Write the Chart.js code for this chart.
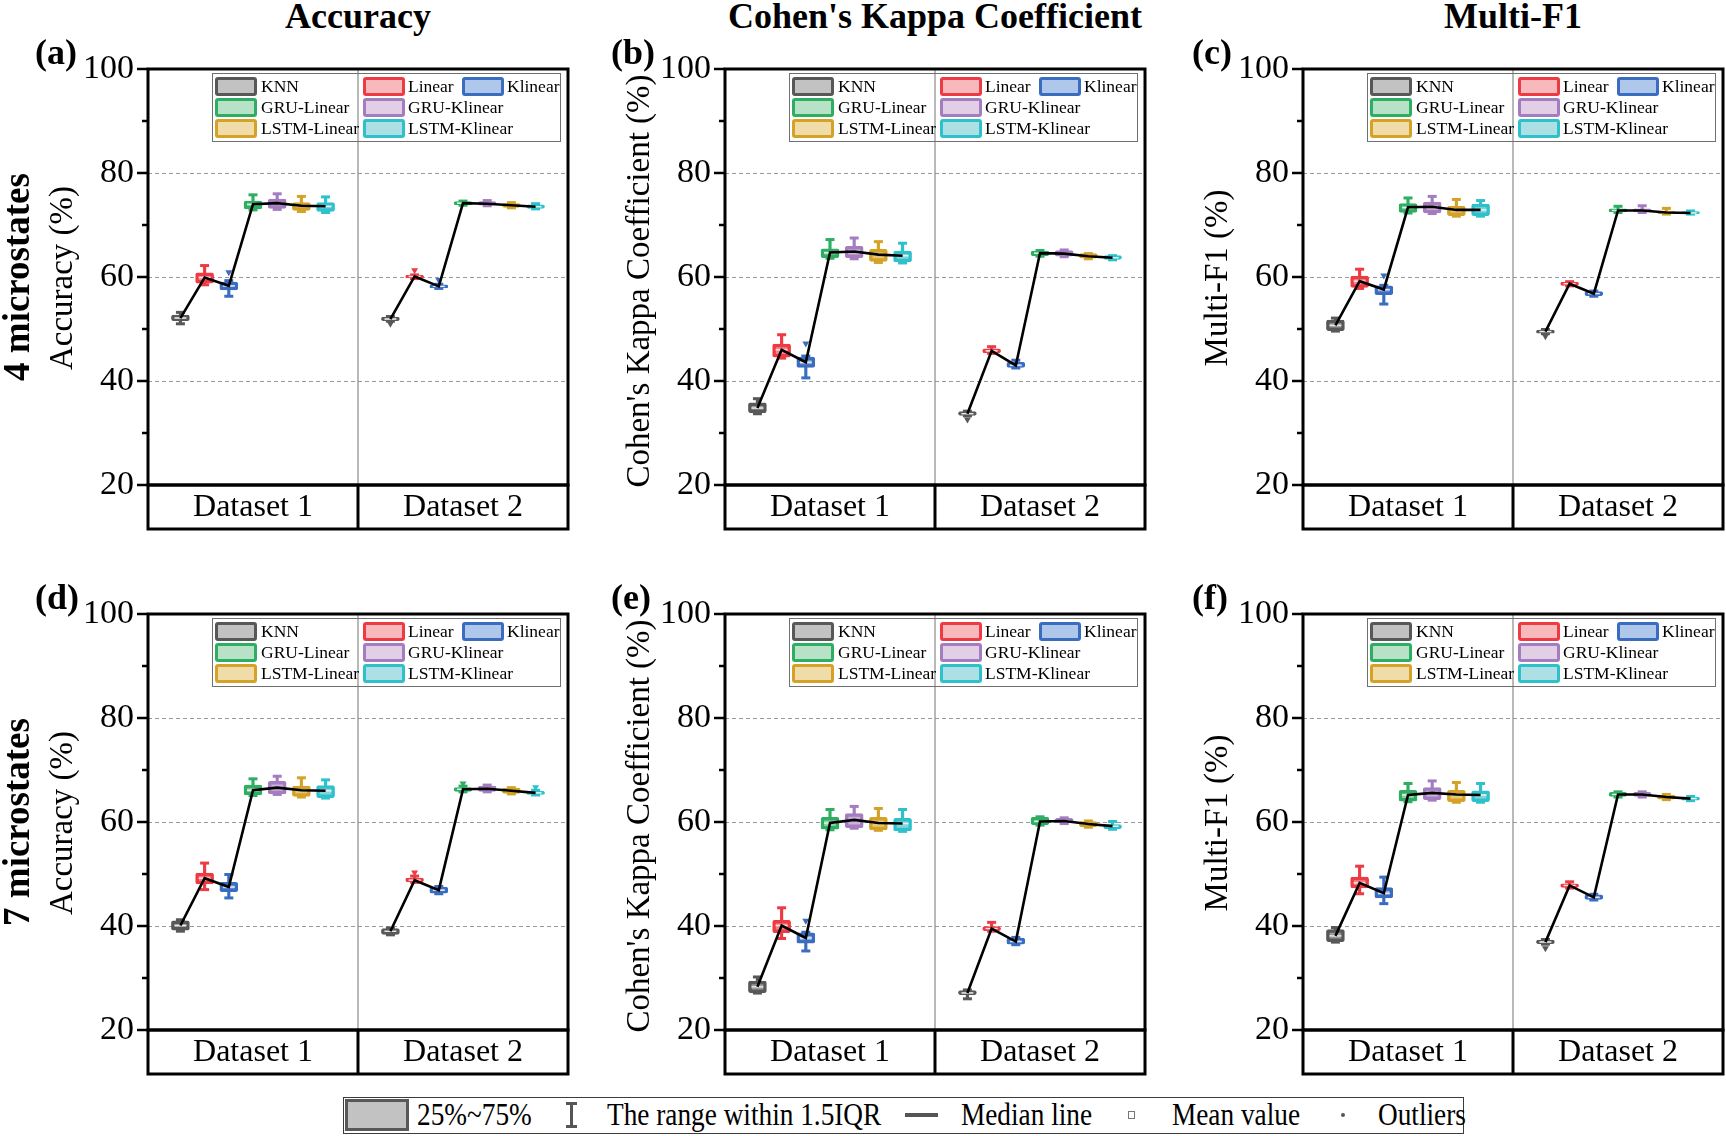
<!DOCTYPE html>
<html>
<head>
<meta charset="utf-8">
<script src="https://cdn.jsdelivr.net/npm/chart.js@4.4.0/dist/chart.umd.min.js"></script>
<style>
  html, body { margin: 0; padding: 0; background: #fff; }
  #page { position: relative; width: 1726px; height: 1136px; overflow: hidden;
          font-family: 'Liberation Serif', 'Times New Roman', serif; color: #000; }
  .abs { position: absolute; white-space: nowrap; }
  .coltitle { font-weight: bold; font-size: 36px; line-height: 36px; transform: translateX(-50%); }
  .plabel { font-weight: bold; font-size: 36px; line-height: 36px; }
  .rot { transform: translate(-50%, -50%) rotate(-90deg); }
  .rowtitle { font-weight: bold; font-size: 37px; line-height: 40px; }
  .ytitle { font-size: 33px; line-height: 36px; }
  .leg { position: absolute; border: 1px solid #707070; box-sizing: border-box; }
  .leg .sw { position: absolute; width: 42px; height: 19px; box-sizing: border-box; border: 3px solid; border-radius: 3px; }
  .leg .tx { position: absolute; font-size: 17.5px; line-height: 20px; }
  #blegend { position: absolute; left: 343px; top: 1097px; width: 1121px; height: 37px;
             border: 1.5px solid #3c3c3c; box-sizing: border-box; }
  #blegend .t { position: absolute; top: 0; font-size: 31px; line-height: 34px; transform: scaleX(0.88); transform-origin: left center; }
  canvas { position: absolute; }
</style>
</head>
<body>
<div id="page"></div>
<script>
// ---------------- DATA ----------------
const models = ['KNN', 'Linear', 'Klinear', 'GRU-Linear', 'GRU-Klinear', 'LSTM-Linear', 'LSTM-Klinear'];
const groups = ['Dataset 1', 'Dataset 2'];
const yTickLabels = [20, 40, 60, 80, 100];
const gridValues = [40, 60, 80];
const colTitles = ['Accuracy', "Cohen's Kappa Coefficient", 'Multi-F1'];
const rowTitles = ['4 microstates', '7 microstates'];
const yTitles = ['Accuracy (%)', "Cohen's Kappa Coefficient (%)", 'Multi-F1 (%)'];
const panelLetters = ['(a)', '(b)', '(c)', '(d)', '(e)', '(f)'];

// Each array: Dataset 1 (7 models in order above), then Dataset 2 (7 models)
// (a) Accuracy, 4 microstates
const a_lo  = [51.0, 58.5, 56.3, 72.9, 73.0, 72.6, 72.4,  51.5, 59.7, 57.8, 73.8, 73.7, 73.3, 73.1];
const a_q1  = [51.6, 58.8, 57.5, 73.1, 73.2, 72.8, 72.6,  51.6, 59.8, 57.9, 73.9, 73.8, 73.4, 73.2];
const a_med = [52.1, 59.9, 58.3, 74.0, 74.2, 73.7, 73.6,  51.9, 60.1, 58.2, 74.2, 74.1, 73.8, 73.5];
const a_q3  = [52.7, 60.8, 59.0, 74.6, 75.0, 74.3, 74.3,  52.3, 60.3, 58.5, 74.5, 74.5, 74.1, 73.9];
const a_hi  = [53.2, 62.2, 59.3, 75.8, 76.0, 75.5, 75.4,  52.4, 60.4, 58.6, 74.6, 74.7, 74.3, 74.1];
const a_out = [[2, 60.9], [7, 51.0], [8, 61.3], [9, 59.4]];
// (b) Cohen's Kappa, 4 microstates
const b_lo  = [33.7, 44.4, 40.6, 63.6, 63.5, 62.8, 62.7,  33.3, 45.3, 42.5, 64.0, 63.9, 63.5, 63.3];
const b_q1  = [33.9, 44.6, 42.6, 63.7, 63.7, 63.0, 62.9,  33.4, 45.4, 42.6, 64.1, 64.0, 63.6, 63.4];
const b_med = [34.8, 46.0, 43.6, 64.7, 64.9, 64.3, 64.1,  33.7, 45.8, 43.0, 64.6, 64.5, 64.0, 63.7];
const b_q3  = [35.8, 47.1, 44.6, 65.4, 65.9, 65.3, 65.0,  34.1, 46.2, 43.6, 65.0, 65.1, 64.5, 64.1];
const b_hi  = [36.6, 48.9, 44.8, 67.2, 67.5, 66.8, 66.5,  34.2, 46.6, 44.0, 65.1, 65.2, 64.5, 64.1];
const b_out = [[2, 47.2], [7, 32.6]];
// (c) Multi-F1, 4 microstates
const c_lo  = [49.6, 57.8, 54.8, 72.3, 72.2, 71.7, 71.7,  49.1, 58.3, 56.3, 72.4, 72.4, 72.1, 72.1];
const c_q1  = [49.7, 58.0, 56.6, 72.4, 72.3, 71.8, 71.8,  49.2, 58.4, 56.4, 72.5, 72.5, 72.2, 72.2];
const c_med = [50.7, 59.2, 57.6, 73.4, 73.5, 72.9, 72.9,  49.5, 58.7, 56.8, 72.8, 72.8, 72.4, 72.3];
const c_q3  = [51.7, 60.2, 58.3, 74.1, 74.4, 73.6, 74.0,  49.8, 59.0, 57.2, 73.1, 73.1, 72.7, 72.6];
const c_hi  = [52.1, 61.5, 58.4, 75.2, 75.5, 74.9, 74.7,  49.9, 59.1, 57.3, 73.6, 73.7, 73.2, 72.7];
const c_out = [[2, 60.3], [7, 48.6]];
// (d) Accuracy, 7 microstates
const d_lo  = [39.0, 47.0, 45.4, 65.1, 65.3, 64.8, 64.6,  38.3, 48.4, 46.2, 65.8, 65.8, 65.4, 65.2];
const d_q1  = [39.2, 48.1, 46.6, 65.2, 65.4, 64.9, 64.7,  38.4, 48.5, 46.3, 65.9, 65.9, 65.5, 65.3];
const d_med = [40.1, 49.2, 47.5, 66.1, 66.6, 66.1, 66.0,  39.0, 48.8, 46.9, 66.3, 66.4, 66.0, 65.6];
const d_q3  = [41.0, 50.2, 48.4, 67.1, 67.8, 66.9, 67.0,  39.5, 49.2, 47.5, 66.6, 66.9, 66.5, 65.9];
const d_hi  = [41.2, 52.1, 49.9, 68.3, 68.8, 68.5, 68.1,  39.6, 49.6, 47.6, 66.9, 67.1, 66.6, 66.1];
const d_out = [[8, 50.3], [10, 67.4], [13, 66.7]];
// (e) Cohen's Kappa, 7 microstates
const e_lo  = [27.1, 37.6, 35.2, 58.5, 58.8, 58.4, 58.2,  26.0, 39.0, 36.4, 59.4, 59.7, 59.0, 58.6];
const e_q1  = [27.2, 38.7, 36.7, 58.6, 58.9, 58.5, 58.3,  26.8, 39.1, 36.5, 59.5, 59.8, 59.1, 58.7];
const e_med = [28.3, 40.1, 37.7, 59.8, 60.4, 59.8, 59.7,  27.1, 39.5, 37.0, 60.1, 60.2, 59.6, 59.2];
const e_q3  = [29.4, 41.1, 38.7, 60.9, 61.6, 60.9, 60.7,  27.6, 39.9, 37.7, 60.9, 60.7, 60.1, 59.5];
const e_hi  = [30.2, 43.5, 38.8, 62.4, 63.0, 62.6, 62.4,  27.7, 40.7, 37.8, 61.0, 60.8, 60.2, 60.1];
const e_out = [[2, 41.0]];
// (f) Multi-F1, 7 microstates
const f_lo  = [36.9, 46.2, 44.3, 63.9, 64.2, 63.8, 63.8,  36.5, 47.3, 45.0, 64.8, 64.8, 64.3, 64.1];
const f_q1  = [37.0, 47.3, 45.4, 64.0, 64.3, 63.9, 63.9,  36.6, 47.4, 45.1, 64.9, 64.9, 64.4, 64.2];
const f_med = [38.1, 48.3, 46.3, 65.2, 65.6, 65.3, 65.2,  36.9, 47.8, 45.5, 65.3, 65.3, 64.8, 64.5];
const f_q3  = [39.3, 49.4, 47.4, 66.1, 66.6, 66.1, 66.0,  37.3, 48.1, 46.0, 65.7, 65.7, 65.2, 64.8];
const f_hi  = [39.7, 51.5, 49.4, 67.4, 67.9, 67.6, 67.4,  37.4, 48.5, 46.1, 65.8, 65.8, 65.3, 64.9];
const f_out = [[7, 35.7]];

// ---------------- STYLE ----------------
const borderCols = ['#585858', '#ee3a42', '#3a6cc0', '#2eae62', '#a47cc0', '#d4a227', '#2ec1cc'];
const fillCols   = ['#c2c2c2', '#f7b9bc', '#aec7ea', '#b8e2c8', '#e2cfe6', '#f0dca8', '#ade0e4'];
const boxFills   = ['#9a9a9a', '#f58489', '#86a8dd', '#8fd1a9', '#cdb1dc', '#e8c878', '#86d4db'];

const panels = [
  { row: 0, col: 0, lo: a_lo, q1: a_q1, med: a_med, q3: a_q3, hi: a_hi, out: a_out },
  { row: 0, col: 1, lo: b_lo, q1: b_q1, med: b_med, q3: b_q3, hi: b_hi, out: b_out },
  { row: 0, col: 2, lo: c_lo, q1: c_q1, med: c_med, q3: c_q3, hi: c_hi, out: c_out },
  { row: 1, col: 0, lo: d_lo, q1: d_q1, med: d_med, q3: d_q3, hi: d_hi, out: d_out },
  { row: 1, col: 1, lo: e_lo, q1: e_q1, med: e_med, q3: e_q3, hi: e_hi, out: e_out },
  { row: 1, col: 2, lo: f_lo, q1: f_q1, med: f_med, q3: f_q3, hi: f_hi, out: f_out },
];

// ---------------- LAYOUT ----------------
const panelLefts = [148, 725, 1303];
const panelW = 420;
const rowTops = [69, 614];
const plotH = 416;
const bandH = 44;
const AXW = 110, PADT = 24, PADR = 3, PADB = bandH + 6;
const slot = 0.1152;          // spacing between boxes inside a dataset group (x units)

const page = document.getElementById('page');
function addDiv(cls, text, style) {
  const d = document.createElement('div');
  d.className = cls; d.textContent = text;
  Object.assign(d.style, style);
  page.appendChild(d);
  return d;
}

Chart.defaults.font.family = "'Liberation Serif', 'Times New Roman', serif";
Chart.defaults.color = '#000';

const framePlugin = {
  id: 'frame',
  beforeDatasetsDraw(chart) {
    const { ctx, chartArea: a, scales: { x, y } } = chart;
    ctx.save();
    ctx.strokeStyle = '#9a9a9a'; ctx.lineWidth = 1.2; ctx.setLineDash([4, 3]);
    gridValues.forEach(v => {
      const py = Math.round(y.getPixelForValue(v)) + 0.5;
      ctx.beginPath(); ctx.moveTo(a.left, py); ctx.lineTo(a.right, py); ctx.stroke();
    });
    ctx.setLineDash([]);
    ctx.strokeStyle = '#8a8a8a'; ctx.lineWidth = 1.2;
    const xm = x.getPixelForValue(1);
    ctx.beginPath(); ctx.moveTo(xm, a.top); ctx.lineTo(xm, a.bottom); ctx.stroke();
    ctx.restore();
  },
  afterDraw(chart) {
    const { ctx, chartArea: a, scales: { x, y } } = chart;
    ctx.save();
    ctx.strokeStyle = '#000'; ctx.lineWidth = 3;
    ctx.strokeRect(a.left, a.top, a.right - a.left, a.bottom - a.top);
    ctx.strokeRect(a.left, a.bottom, a.right - a.left, bandH);
    const xm = x.getPixelForValue(1);
    ctx.beginPath(); ctx.moveTo(xm, a.bottom); ctx.lineTo(xm, a.bottom + bandH); ctx.stroke();
    ctx.lineWidth = 2.5;
    y.ticks.forEach(t => {
      const py = y.getPixelForValue(t.value);
      const len = yTickLabels.includes(t.value) ? 11 : 6;
      ctx.beginPath(); ctx.moveTo(a.left, py); ctx.lineTo(a.left - len, py); ctx.stroke();
    });
    ctx.fillStyle = '#000';
    ctx.font = "32px 'Liberation Serif', serif";
    ctx.textAlign = 'center'; ctx.textBaseline = 'middle';
    groups.forEach((g, i) => ctx.fillText(g, x.getPixelForValue(i + 0.5), a.bottom + bandH / 2 + 1));
    ctx.restore();
  }
};

function xPos(i) { const g = Math.floor(i / 7), m = i % 7; return g + 0.5 + (m - 3) * slot; }

panels.forEach((p, pi) => {
  const left = panelLefts[p.col], top = rowTops[p.row];
  const canvas = document.createElement('canvas');
  canvas.width = AXW + panelW + PADR;
  canvas.height = PADT + plotH + PADB;
  canvas.style.left = (left - AXW) + 'px';
  canvas.style.top = (top - PADT) + 'px';
  page.appendChild(canvas);

  const n = p.med.length;
  const idx = Array.from({ length: n }, (_, i) => i);
  const bc = idx.map(i => borderCols[i % 7]);
  const fc = idx.map(i => boxFills[i % 7]);

  const datasets = [];
  // whisker stems
  datasets.push({ type: 'bar', grouped: false, order: 4, barThickness: 2.5,
    data: idx.map(i => ({ x: xPos(i), y: [p.lo[i], p.hi[i]] })),
    backgroundColor: bc, borderWidth: 0 });
  // whisker caps
  datasets.push({ type: 'line', showLine: false, order: 3, pointStyle: 'line', pointRadius: 4.5,
    pointBorderWidth: 3, pointBorderColor: bc.concat(bc),
    data: idx.map(i => ({ x: xPos(i), y: p.lo[i] })).concat(idx.map(i => ({ x: xPos(i), y: p.hi[i] }))) });
  // boxes (25%-75%)
  datasets.push({ type: 'bar', grouped: false, order: 2, barThickness: 18,
    data: idx.map(i => ({ x: xPos(i), y: [p.q1[i], p.q3[i]] })),
    backgroundColor: fc, borderColor: bc, borderWidth: 3.5, borderSkipped: false, borderRadius: 2 });
  // median lines
  datasets.push({ type: 'line', showLine: false, order: 1, pointStyle: 'line', pointRadius: 6,
    pointBorderWidth: 1.5, pointBorderColor: 'rgba(255,255,255,0.75)',
    data: idx.map(i => ({ x: xPos(i), y: p.med[i] })) });
  // outliers
  datasets.push({ type: 'line', showLine: false, order: 1, pointStyle: 'triangle', pointRotation: 180,
    pointRadius: 4, pointBorderWidth: 0,
    pointBackgroundColor: p.out.map(o => borderCols[o[0] % 7]),
    data: p.out.map(o => ({ x: xPos(o[0]), y: o[1] })) });
  // connecting lines through the medians, one per dataset group
  groups.forEach((g, gi) => {
    datasets.push({ type: 'line', order: 0, borderColor: '#000', borderWidth: 2.6, pointRadius: 0,
      fill: false, tension: 0,
      data: idx.filter(i => Math.floor(i / 7) === gi).map(i => ({ x: xPos(i), y: p.med[i] })) });
  });

  new Chart(canvas, {
    type: 'bar',
    data: { datasets },
    options: {
      responsive: false, animation: false, devicePixelRatio: 1,
      layout: { autoPadding: false, padding: { top: PADT, right: PADR, bottom: PADB, left: 0 } },
      plugins: { legend: { display: false }, tooltip: { enabled: false } },
      scales: {
        x: { type: 'linear', min: 0, max: 2, offset: false, display: false },
        y: { type: 'linear', min: 20, max: 100,
             afterFit(s) { s.width = AXW; s.paddingTop = 0; s.paddingBottom = 0; },
             grid: { display: false, drawTicks: false },
             border: { display: false },
             ticks: { stepSize: 10, padding: 14, color: '#000',
                      font: { size: 34, family: "'Liberation Serif', serif" },
                      callback: v => yTickLabels.includes(v) ? String(v) : '' } }
      }
    },
    plugins: [framePlugin]
  });

  // in-plot legend
  const leg = document.createElement('div');
  leg.className = 'leg';
  Object.assign(leg.style, { left: (left + 64) + 'px', top: (top + 4) + 'px', width: '349px', height: '69px' });
  const cells = [[0, 0, 0], [1, 1, 0], [2, 2, 0], [3, 0, 1], [4, 1, 1], [5, 0, 2], [6, 1, 2]]; // model, col, row
  const swX = [2, 150, 249], txX = [48, 195, 294];
  cells.forEach(([m, c, r]) => {
    const sw = document.createElement('div'); sw.className = 'sw';
    Object.assign(sw.style, { left: swX[c] + 'px', top: (3 + r * 21) + 'px', borderColor: borderCols[m], background: fillCols[m] });
    leg.appendChild(sw);
    const tx = document.createElement('div'); tx.className = 'tx'; tx.textContent = models[m];
    Object.assign(tx.style, { left: txX[c] + 'px', top: (2 + r * 21) + 'px' });
    leg.appendChild(tx);
  });
  page.appendChild(leg);

  // panel letter
  addDiv('abs plabel', panelLetters[pi], { left: [35, 611, 1192][p.col] + 'px', top: (top - 35) + 'px' });
  // y-axis title
  addDiv('abs rot ytitle', yTitles[p.col], { left: (left - 87) + 'px', top: (top + plotH / 2 + (p.col === 1 ? 4 : 1)) + 'px' });
});

// column titles
colTitles.forEach((t, i) => addDiv('abs coltitle', t, { left: (panelLefts[i] + panelW / 2) + 'px', top: '-2px' }));
// row titles
rowTitles.forEach((t, i) => addDiv('abs rot rowtitle', t, { left: '17px', top: (rowTops[i] + plotH / 2) + 'px' }));

// bottom legend
const bl = document.createElement('div'); bl.id = 'blegend'; page.appendChild(bl);
function bAdd(style, text) {
  const d = document.createElement('div');
  if (text !== undefined) { d.className = 't'; d.textContent = text; }
  d.style.position = 'absolute';
  Object.assign(d.style, style); bl.appendChild(d); return d;
}
bAdd({ left: '1px', top: '1px', width: '64px', height: '32px', boxSizing: 'border-box', border: '3.5px solid #585858', background: '#c2c2c2' });
bAdd({ left: '73px' }, '25%~75%');
bAdd({ left: '226px', top: '5px', width: '3px', height: '24px', background: '#555' });
bAdd({ left: '222px', top: '4px', width: '11px', height: '3px', background: '#555' });
bAdd({ left: '222px', top: '27px', width: '11px', height: '3px', background: '#555' });
bAdd({ left: '263px' }, 'The range within 1.5IQR');
bAdd({ left: '561px', top: '15px', width: '33px', height: '4px', background: '#555' });
bAdd({ left: '617px' }, 'Median line');
bAdd({ left: '784px', top: '13px', width: '5px', height: '6px', border: '1px solid #777', background: '#fff' });
bAdd({ left: '828px' }, 'Mean value');
bAdd({ left: '997px', top: '15px', width: '4px', height: '4px', borderRadius: '50%', background: '#555' });
bAdd({ left: '1034px' }, 'Outliers');
</script>
</body>
</html>
